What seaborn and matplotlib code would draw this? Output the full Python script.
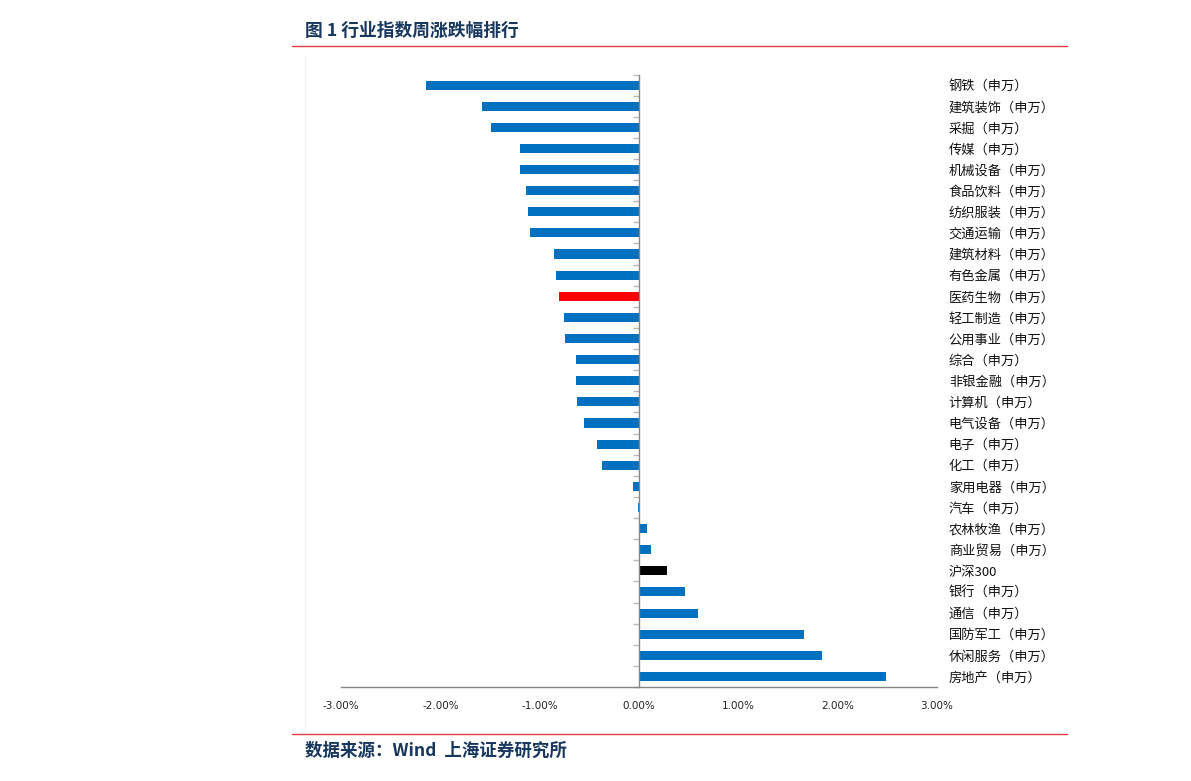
import matplotlib
matplotlib.use("Agg")
import matplotlib.pyplot as plt
import seaborn as sns
import pandas as pd
from matplotlib.ticker import PercentFormatter, FixedLocator
from matplotlib.lines import Line2D

# 行业名称（自上而下）
industries = ["钢铁", "建筑装饰", "采掘", "传媒", "机械设备", "食品饮料", "纺织服装",
              "交通运输", "建筑材料", "有色金属", "医药生物", "轻工制造", "公用事业",
              "综合", "非银金融", "计算机", "电气设备", "电子", "化工", "家用电器",
              "汽车", "农林牧渔", "商业贸易", "沪深300", "银行", "通信", "国防军工",
              "休闲服务", "房地产"]
# 周涨跌幅 (%)
changes = [-2.14, -1.58, -1.49, -1.20, -1.20, -1.14, -1.12, -1.10, -0.86, -0.84,
           -0.81, -0.76, -0.74, -0.63, -0.63, -0.62, -0.55, -0.42, -0.37, -0.06,
           -0.01, 0.08, 0.12, 0.28, 0.46, 0.59, 1.66, 1.84, 2.49]
x_ticks = [-3, -2, -1, 0, 1, 2, 3]

labels = [n if n == "沪深300" else n + "（申万）" for n in industries]
colors = {}
for n, lab in zip(industries, labels):
    if n == "医药生物":
        colors[lab] = "#FF0000"
    elif n == "沪深300":
        colors[lab] = "#000000"
    else:
        colors[lab] = "#0070C0"

df = pd.DataFrame({"label": labels, "change": changes})

sns.set_style("white")
plt.rcParams['font.family'] = ['Noto Sans CJK SC', 'DejaVu Sans']
plt.rcParams['axes.unicode_minus'] = False

fig = plt.figure(figsize=(11.91, 7.81), dpi=100)
ax = fig.add_axes([341 / 1191, 1 - 687 / 781, 596 / 1191, 612.5 / 781])

sns.barplot(data=df, x="change", y="label", hue="label", palette=colors,
            orient="h", width=0.43, linewidth=0, saturation=1, legend=False, ax=ax)

ax.set_xlim(-3, 3)
ax.set_ylim(len(labels) - 0.5, -0.5)
ax.set_xlabel("")
ax.set_ylabel("")
ax.xaxis.set_major_locator(FixedLocator(x_ticks))
ax.xaxis.set_major_formatter(PercentFormatter(xmax=100, decimals=2))

axis_grey = "#868686"
for s in ["top", "right"]:
    ax.spines[s].set_visible(False)
ax.spines["left"].set_position(("data", 0))
ax.spines["left"].set_color(axis_grey)
ax.spines["bottom"].set_color(axis_grey)
ax.spines["left"].set_linewidth(1.0)
ax.spines["bottom"].set_linewidth(1.0)

ax.tick_params(axis="x", which="major", direction="out", length=4, width=1,
               color=axis_grey, labelsize=7.5, labelcolor="#222222", pad=6)
ax.yaxis.set_minor_locator(FixedLocator([i - 0.5 for i in range(len(labels) + 1)]))
ax.tick_params(axis="y", which="major", left=False, labelleft=False,
               right=False, labelright=True, labelsize=9.5, pad=5,
               labelcolor="#111111")
ax.tick_params(axis="y", which="minor", left=True, right=False, direction="out",
               length=4, width=1, color="#BBBBBB")
for t in ax.get_xticklabels():
    t.set_fontfamily("DejaVu Sans")

# 标题与分隔线
navy = "#17375E"
fig.text(305 / 1191, 1 - 31 / 781, "图 1 行业指数周涨跌幅排行", fontsize=12.8,
         fontweight="bold", color=navy, va="center", ha="left")
fig.add_artist(Line2D([292 / 1191, 1067 / 1191], [1 - 46 / 781, 1 - 46 / 781],
                      color="#E8383D", linewidth=1.0, transform=fig.transFigure))
fig.add_artist(Line2D([292 / 1191, 1067 / 1191], [1 - 734 / 781, 1 - 734 / 781],
                      color="#E8383D", linewidth=1.0, transform=fig.transFigure))
fig.add_artist(Line2D([305 / 1191, 305 / 1191], [1 - 56 / 781, 1 - 731 / 781],
                      color="#F0F0F0", linewidth=0.8, transform=fig.transFigure))
fig.text(305 / 1191, 1 - 751 / 781, "数据来源：Wind  上海证券研究所", fontsize=12.6,
         fontweight="bold", fontstyle="italic", color=navy, va="center", ha="left")

fig.savefig("out.png", dpi=100)
